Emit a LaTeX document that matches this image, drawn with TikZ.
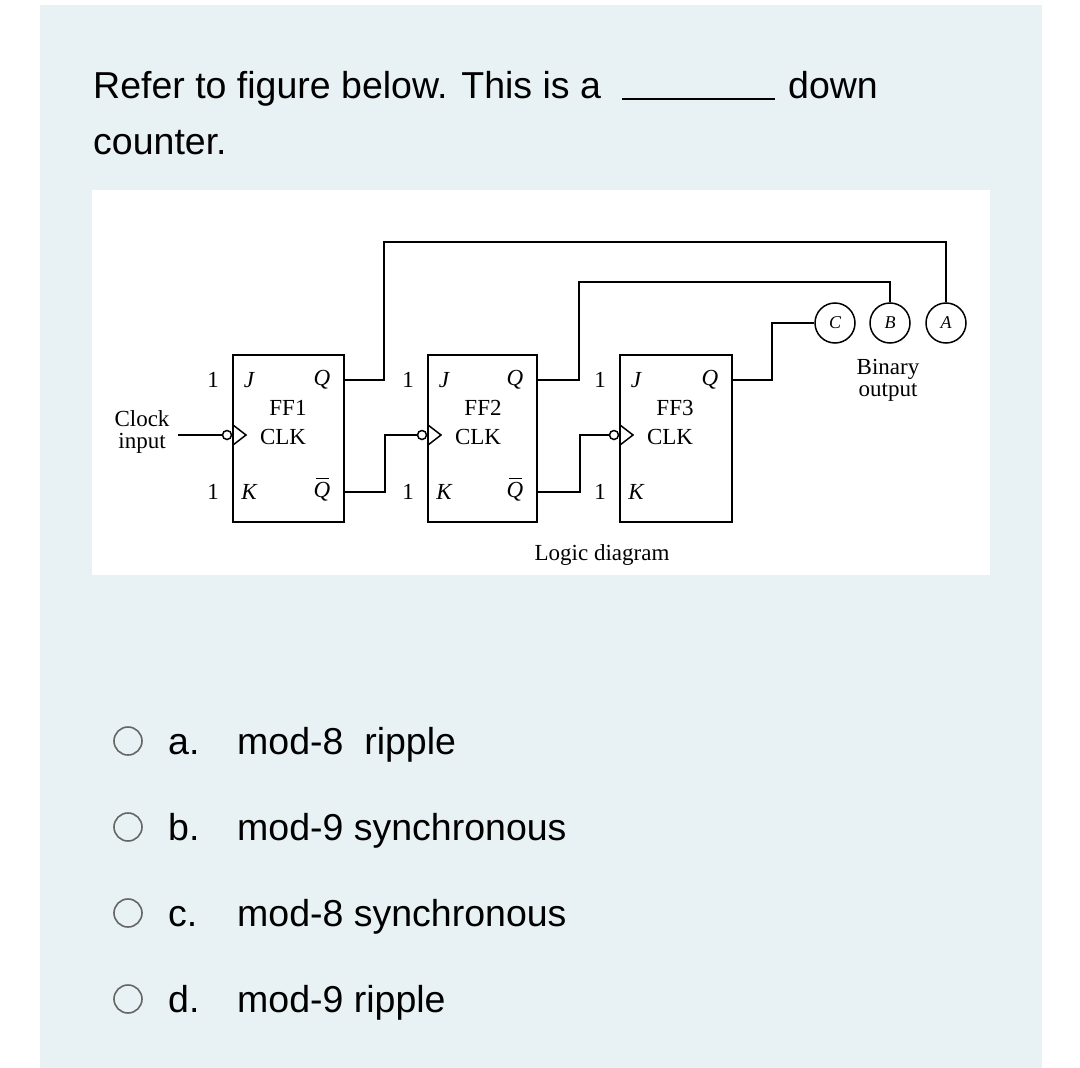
\documentclass[tikz,border=0pt]{standalone}
\usepackage{fontspec}
\setmainfont{Liberation Serif}
\newfontfamily\ui{Liberation Sans}
\begin{document}
\begin{tikzpicture}[x=1pt,y=-1pt,
  ff/.style={draw,line width=1.6pt},
  w/.style={line width=1.5pt},
  lab/.style={font=\fontsize{23}{22}\selectfont,inner sep=0},
  it/.style={font=\fontsize{23}{22}\selectfont\itshape,inner sep=0},
  q/.style={font=\fontsize{37.5}{40}\selectfont\ui,inner sep=0,anchor=base west},
  opt/.style={draw=gray!80!black,line width=1.6pt,circle,minimum size=28pt,inner sep=0},
  outc/.style={draw,circle,line width=1.5pt,minimum size=40pt,inner sep=0,font=\fontsize{18}{18}\selectfont\itshape}]
\useasboundingbox (0,0) rectangle (1080,1068);
\fill[white] (0,0) rectangle (1080,1068);
\fill[color={rgb,255:red,232;green,242;blue,244}] (40,5) rectangle (1042,1068);
\fill[white] (92,190) rectangle (990,575);
\node[q] (t1) at (93,98) {Refer to figure below. This is a};
\draw[line width=1.2pt] (622,99) coordinate (b1) -- (775,99) coordinate (b2);
\node[q] (t2) at (788,98) {down};
\node[q] (t3) at (93,154) {counter.};
% flip-flops
\foreach \n/\x/\xr in {1/233/344,2/428/537,3/620/732}{
  \draw[ff] (\x,355) rectangle (\xr,522);
  \node[lab] (one\n) at (\x-20,380) {1};
  \node[lab] (oneK\n) at (\x-20,492) {1};
  \node[it] (J\n) at (\x+16,380) {J};
  \node[it] (K\n) at (\x+16,492) {K};
  \node[it] (Q\n) at (\xr-22,380) {Q};
  \node[lab] (FF\n) at (\x+55,408) {FF\n};
  \node[lab] (CLK\n) at (\x+50,437) {CLK};
  \draw[w] (\x,425) -- (\x+13,435) -- (\x,445);
  \draw[w] (\x-6,435) circle (4.5);
  \coordinate (c\n) at (\x-10.5,435);
  \coordinate (q\n) at (\xr,380);
  \coordinate (nq\n) at (\xr,492);
}
\foreach \n/\xr in {1/344,2/537}{
  \node[it] (NQ\n) at (\xr-22,492) {Q};
  \draw[line width=1pt] (\xr-28,478) -- (\xr-15,478);
}
\node[outc] (C) at (835,323) {C};
\node[outc] (B) at (890,323) {B};
\node[outc] (A) at (946,323) {A};
\node[lab,align=center] (bo) at (888,380) {Binary\\output};
\node[lab] (ld) at (602,555) {Logic diagram};
\node[lab,align=center] (ci) at (142,432) {Clock\\input};
\coordinate (cin) at (178,435);
\draw[w] (cin) -- (c1);
\draw[w] (q1) -- (384,380) -- (384,242) -- (946,242) -- (A.north);
\draw[w] (q2) -- (579,380) -- (579,282) -- (890,282) -- (B.north);
\draw[w] (q3) -- (772,380) -- (772,323) -- (C.west);
\draw[w] (nq1) -- (385,492) -- (385,435) -- (c2);
\draw[w] (nq2) -- (580,492) -- (580,435) -- (c3);
% options
\foreach \y/\l/\t in {741/a./mod-8\ \ ripple,827/b./mod-9 synchronous,913/c./mod-8 synchronous,999/d./mod-9 ripple}{
  \node[opt] (o\l) at (128,\y) {};
  \node[q] (l\l) at (168,\y+13) {\l};
  \node[q] (x\l) at (237,\y+13) {\t};
}
\end{tikzpicture}
\end{document}
